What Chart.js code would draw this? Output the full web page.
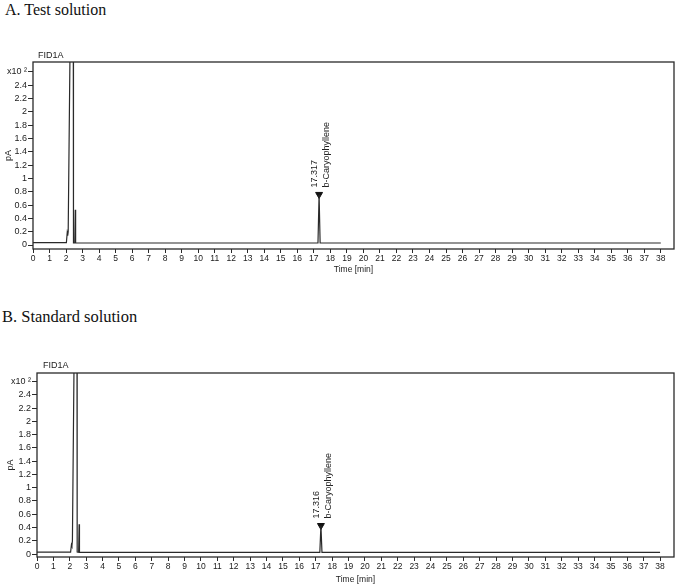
<!DOCTYPE html>
<html lang="en">
<head>
<meta charset="UTF-8">
<title>GC-FID chromatograms</title>
<script src="https://cdn.jsdelivr.net/npm/chart.js"></script>
<style>
body { margin: 0; background: #fff; width: 685px; height: 588px; position: relative; overflow: hidden; }
.heading { position: absolute; font-family: "Liberation Serif", "Times New Roman", serif; color: #111; line-height: 1; white-space: nowrap; }
#headA { left: 5px; top: 2px; font-size: 16px; }
#headB { left: 2px; top: 309px; font-size: 16.5px; }
.panel { position: absolute; left: 0; }
</style>
</head>
<body>
<div class="heading" id="headA">A. Test solution</div>
<canvas id="chartA" class="panel" width="685" height="245" style="top:40px"></canvas>
<div class="heading" id="headB">B. Standard solution</div>
<canvas id="chartB" class="panel" width="685" height="238" style="top:350px"></canvas>
<script>
// FID1A traces, retention time [min] vs signal [pA, x10^2]
const timeA   = [0, 2.02, 2.07, 2.10, 2.13, 2.24, 2.44, 2.45, 2.53, 2.56, 2.58, 17.25, 17.317, 17.38, 38.0];
const signalA = [0.035, 0.035, 0.18, 0.14, 0.2, 2.9, 2.9, 0.03, 0.03, 0.53, 0.03, 0.03, 0.76, 0.03, 0.03];

const timeB   = [0, 2.05, 2.10, 2.13, 2.16, 2.26, 2.44, 2.45, 2.54, 2.57, 2.59, 17.25, 17.316, 17.38, 38.0];
const signalB = [0.03, 0.03, 0.14, 0.12, 0.2, 2.9, 2.9, 0.03, 0.025, 0.45, 0.025, 0.025, 0.43, 0.025, 0.025];

// integrated peak annotations
const peakTimes   = [17.317, 17.316];
const peakHeights = [0.76, 0.43];
const peakRtText  = ['17.317', '17.316'];
const peakName    = 'b-Caryophyllene';

// y axis ticks (top tick carries the x10^2 multiplier)
const yTicks      = [0, 0.2, 0.4, 0.6, 0.8, 1, 1.2, 1.4, 1.6, 1.8, 2, 2.2, 2.4, 2.6];
const yTickLabels = ['0', '0.2', '0.4', '0.6', '0.8', '1', '1.2', '1.4', '1.6', '1.8', '2', '2.2', '2.4', 'x10 \u00b2'];

Chart.defaults.font.family = '"Liberation Sans", Arial, sans-serif';
Chart.defaults.color = '#222';

const ink = '#2a2a2a';

const framePlugin = {
    id: 'frame',
    afterDatasetsDraw(chart, args, opts) {
        const {ctx, chartArea: a, scales} = chart;
        ctx.save();
        ctx.strokeStyle = ink;
        ctx.lineWidth = 1.3;
        ctx.strokeRect(a.left, a.top, a.right - a.left, a.bottom - a.top);
        ctx.fillStyle = '#222';
        ctx.font = '9px "Liberation Sans", Arial, sans-serif';
        ctx.textBaseline = 'middle';
        ctx.textAlign = 'left';
        ctx.fillText('FID1A', a.left + opts.fidDx, a.top - opts.fidDy);
        // peak labels, written upward above the marker
        const px = scales.x.getPixelForValue(opts.peakTime);
        const py = scales.y.getPixelForValue(opts.peakHeight);
        const labels = [[opts.rtText, -4.5], [peakName, 7.5]];
        labels.forEach(([txt, dx]) => {
            ctx.save();
            ctx.translate(px + dx, py - 7);
            ctx.rotate(-Math.PI / 2);
            ctx.fillText(txt, 0, 0);
            ctx.restore();
        });
        ctx.restore();
    }
};

function makeChart(id, time, signal, idx, g) {
    const trace = time.map((t, i) => ({x: t, y: signal[i]}));
    return new Chart(document.getElementById(id), {
        type: 'line',
        data: {
            datasets: [
                {
                    data: trace,
                    borderColor: ink,
                    borderWidth: 1.2,
                    pointRadius: 0,
                    tension: 0
                },
                {
                    data: [{x: peakTimes[idx], y: peakHeights[idx]}],
                    showLine: false,
                    pointStyle: 'triangle',
                    rotation: 180,
                    pointRadius: 4,
                    backgroundColor: '#111',
                    borderColor: '#111',
                    borderWidth: 1
                }
            ]
        },
        options: {
            responsive: false,
            animation: false,
            events: [],
            layout: { padding: { top: g.top, right: 11, left: 0, bottom: 0 } },
            plugins: {
                legend: { display: false },
                tooltip: { enabled: false },
                frame: {
                    peakTime: peakTimes[idx],
                    peakHeight: peakHeights[idx],
                    rtText: peakRtText[idx],
                    fidDx: g.fidDx,
                    fidDy: g.fidDy
                }
            },
            scales: {
                x: {
                    type: 'linear',
                    min: 0,
                    max: g.xMax,
                    border: { display: false },
                    grid: { drawOnChartArea: false, tickLength: 4, color: ink, lineWidth: 1 },
                    ticks: { stepSize: 1, includeBounds: false, autoSkip: false, maxRotation: 0, padding: 1, font: { size: 8.5 }, color: '#222' },
                    title: { display: true, text: 'Time [min]', font: { size: 8.5 }, color: '#222', padding: { top: 0, bottom: g.titlePad } },
                    afterFit(scale) { scale.height = g.xAxisH; }
                },
                y: {
                    min: g.yMin,
                    max: g.yMax,
                    border: { display: false },
                    grid: { drawOnChartArea: false, tickLength: 5, color: ink, lineWidth: 1 },
                    ticks: {
                        padding: 1,
                        font: { size: 9 },
                        color: '#222',
                        callback: (v) => {
                            const k = yTicks.findIndex(t => Math.abs(t - v) < 1e-6);
                            return k >= 0 ? yTickLabels[k] : '';
                        }
                    },
                    afterBuildTicks(scale) { scale.ticks = yTicks.map(v => ({value: v})); },
                    title: { display: true, text: 'pA', font: { size: 9 }, color: '#222', padding: { top: g.pAPad, bottom: 0 } },
                    afterFit(scale) { scale.width = g.left; }
                }
            }
        },
        plugins: [framePlugin]
    });
}

makeChart('chartA', timeA, signalA, 0, {
    top: 22, left: 33, xAxisH: 36, xMax: 38.8, yMin: -0.06, yMax: 2.75,
    titlePad: 10, pAPad: 3, fidDx: 5, fidDy: 6
});
makeChart('chartB', timeB, signalB, 1, {
    top: 23, left: 37, xAxisH: 31, xMax: 38.85, yMin: -0.045, yMax: 2.73,
    titlePad: 3, pAPad: 5, fidDx: 6, fidDy: 7
});
</script>
</body>
</html>
